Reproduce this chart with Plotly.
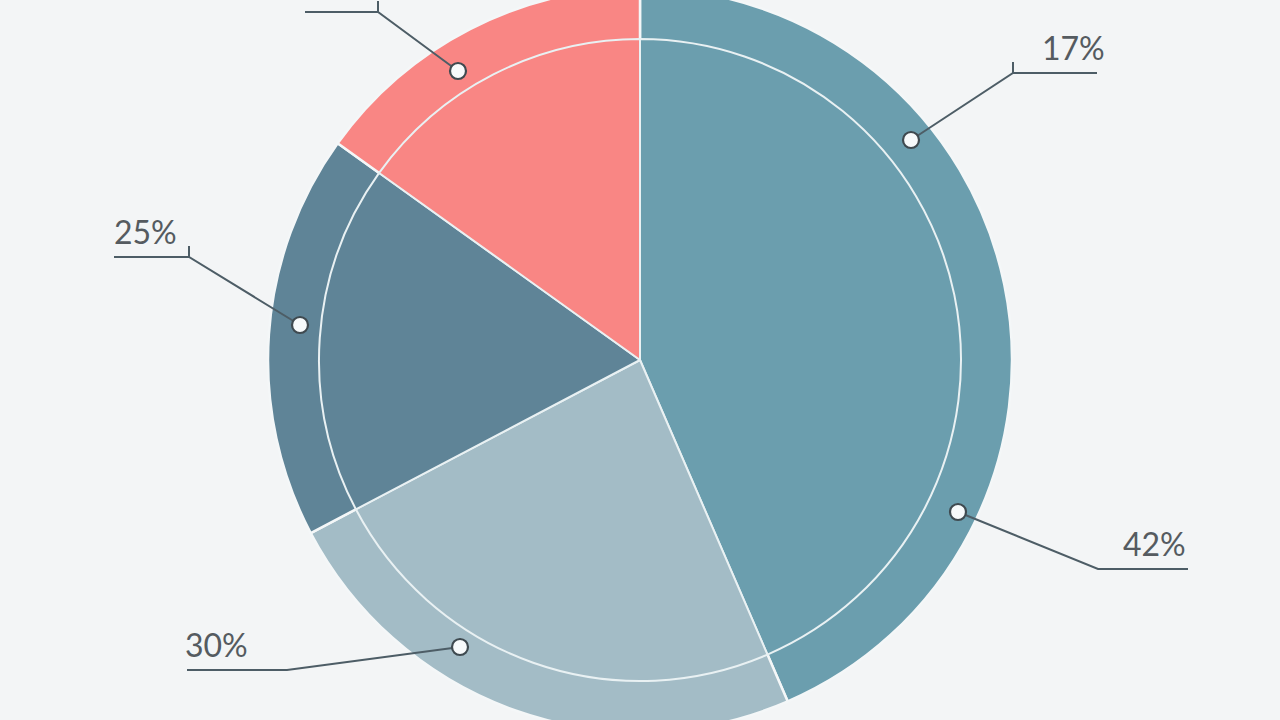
import plotly.graph_objects as go

W, H = 1280, 720
TOP = 12          # the pie runs past the top of the page by this much
FH = H + 2 * TOP  # figure height, so the full pie fits its domain

# slice shares, clockwise from 12 o'clock
slices = ["teal", "light", "dark", "coral"]
shares = [43.5, 23.8, 17.6, 15.1]
colors = ["#6b9eae", "#a3bcc6", "#5f8497", "#f98684"]

# callout labels as printed on the picture
label_text = ["17%", "42%", "30%", "25%", ""]

# pie geometry in page pixels
cx, cy = 640, 360
r_out = 372
r_in = 321

# callouts: dot, elbow, end of underline (page pixels), text side
callouts = [
    dict(dot=(911, 140), elbow=(1013, 73), end=(1097, 73), tick=True, side="right", tx=10),
    dict(dot=(958, 512), elbow=(1098, 569), end=(1188, 569), tick=False, side="right", tx=0),
    dict(dot=(460, 647), elbow=(287, 670), end=(187, 670), tick=False, side="left", tx=-4),
    dict(dot=(300, 325), elbow=(189, 257), end=(114, 257), tick=True, side="left", tx=-2),
    dict(dot=(458, 71), elbow=(378, 12), end=(305, 12), tick=True, side="left", tx=0),
]

line_col = "#4d5d66"
text_col = "#555b60"


def dom(r):
    top = cy - r + TOP
    bot = cy + r + TOP
    return dict(x=[(cx - r) / W, (cx + r) / W],
                y=[max(0, 1 - bot / FH), min(1, 1 - top / FH)])


fig = go.Figure()

fig.add_trace(go.Pie(labels=slices, values=shares, sort=False, direction="clockwise",
                     rotation=0, textinfo="none", hoverinfo="skip", showlegend=False,
                     marker=dict(colors=colors, line=dict(color="#f4f7f8", width=2.5)),
                     domain=dom(r_out)))
# inner ring line
fig.add_trace(go.Pie(labels=slices, values=shares, sort=False, direction="clockwise",
                     rotation=0, textinfo="none", hoverinfo="skip", showlegend=False,
                     marker=dict(colors=colors, line=dict(color="#e9f1f3", width=2)),
                     domain=dom(r_in)))

# hidden pixel axes for the callouts
fig.add_trace(go.Scatter(x=[0, W], y=[0, H], mode="markers", marker=dict(opacity=0),
                         hoverinfo="skip", showlegend=False))

for c, txt in zip(callouts, label_text):
    (dx, dy), (ex, ey), (fx, fy) = c["dot"], c["elbow"], c["end"]
    fig.add_shape(type="path", path=f"M {dx} {dy} L {ex} {ey} L {fx} {fy}",
                  xref="x", yref="y", line=dict(color=line_col, width=2), layer="above")
    if c["tick"]:
        fig.add_shape(type="line", x0=ex, x1=ex, y0=ey - 11, y1=ey, xref="x", yref="y",
                      line=dict(color=line_col, width=2), layer="above")
    fig.add_shape(type="circle", xref="x", yref="y", xsizemode="pixel", ysizemode="pixel",
                  xanchor=dx, yanchor=dy, x0=-8, x1=8, y0=-8, y1=8,
                  fillcolor="#f7fafb", line=dict(color="#3f4a50", width=2.2), layer="above")
    if txt:
        right = c["side"] == "right"
        fig.add_annotation(x=fx + c["tx"], y=fy - 4, xref="x", yref="y",
                           text=txt, showarrow=False,
                           xanchor="right" if right else "left", yanchor="bottom",
                           font=dict(family="Lato", size=32, color=text_col))

fig.update_layout(
    width=W, height=FH,
    margin=dict(l=0, r=0, t=0, b=0),
    paper_bgcolor="#f3f5f6", plot_bgcolor="#f3f5f6",
    xaxis=dict(range=[0, W], visible=False, domain=[0, 1], fixedrange=True),
    yaxis=dict(range=[H + TOP, -TOP], visible=False, domain=[0, 1], fixedrange=True),
)

# page with no body margin, graph pulled up so the pie top runs off the page
fig.write_html("out.html", config={"displayModeBar": False}, post_script=(
    "document.body.style.margin='0';document.body.style.overflow='hidden';"
    "document.body.style.background='#f3f5f6';"
    "document.getElementById('{plot_id}').style.marginTop='-%dpx';" % TOP))
